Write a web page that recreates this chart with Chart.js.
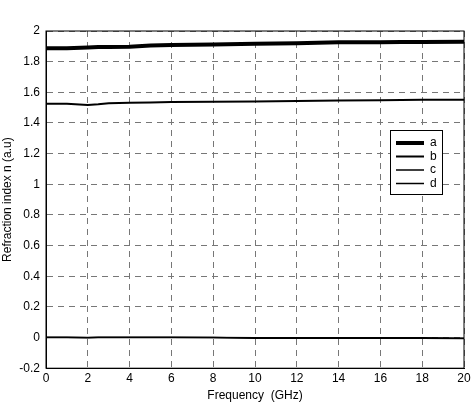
<!DOCTYPE html><html><head><style>body{margin:0;background:#fff}#w{width:474px;height:403px}</style>
<script src="https://cdn.jsdelivr.net/npm/chart.js@4"></script></head><body><div id="w"><canvas id="c"></canvas></div><script>
const freq=[0,1,2,2.5,3,4,5,6,8,10,12,14,16,17,18,20];
const seriesA=[1.888,1.888,1.892,1.895,1.896,1.898,1.905,1.908,1.912,1.917,1.920,1.926,1.926,1.928,1.929,1.930];
const seriesB=[1.525,1.525,1.518,1.522,1.528,1.532,1.534,1.536,1.538,1.540,1.543,1.546,1.548,1.550,1.551,1.552];
const seriesC=[0,0,-0.002,0,0,0,0,0,0,-0.004,-0.004,-0.004,-0.004,-0.004,-0.004,-0.006];
const seriesD=[0.002,0.002,0,0.002,0.002,0.002,0.002,0.002,0.001,-0.002,-0.002,-0.002,-0.002,-0.002,-0.002,-0.004];
const labels=['a','b','c','d'];
const widths=[4,2,1.5,1.5];
const all=[seriesA,seriesB,seriesC,seriesD];
const legendPlugin={id:'lg',afterDraw(ch){const x=ch.ctx;x.save();x.fillStyle='#fff';x.strokeStyle='#000';x.lineWidth=1;
x.fillRect(390,130,52,64);x.strokeRect(390.5,130.5,52,64);x.font='12px Arial';x.textBaseline='middle';
labels.forEach((l,i)=>{const y=143+i*13.5;x.beginPath();x.lineWidth=widths[i];x.moveTo(396,y);x.lineTo(424,y);x.stroke();x.fillStyle='#000';x.fillText(l,430,y);});x.restore();}};
new Chart(document.getElementById('c'),{type:'scatter',data:{datasets:all.map((s,i)=>({label:labels[i],data:freq.map((f,j)=>({x:f,y:s[j]})),showLine:true,borderColor:'#000',borderWidth:widths[i],pointRadius:0,tension:0}))},
options:{animation:false,responsive:true,maintainAspectRatio:false,layout:{padding:{top:31,right:10}},
plugins:{legend:{display:false},tooltip:{enabled:false}},
scales:{x:{min:0,max:20,ticks:{stepSize:2,color:'#000',font:{size:12,family:'Arial'},maxRotation:0},border:{color:'#000',dash:[6,5]},grid:{color:'#777',drawTicks:false},title:{display:true,text:'Frequency  (GHz)',color:'#000',font:{size:12,family:'Arial'},padding:0}},
y:{min:-0.2,max:2,afterFit(a){a.width=46},ticks:{stepSize:0.2,color:'#000',padding:6,font:{size:12,family:'Arial'},callback:v=>Math.round(v*10)/10},border:{color:'#000',dash:[6,5]},grid:{color:'#777',drawTicks:false},title:{display:true,text:'Refraction index n (a.u)',color:'#000',font:{size:12,family:'Arial'},padding:0}}}},
plugins:[legendPlugin,{id:'frame',afterDraw(ch){const a=ch.chartArea,x=ch.ctx;x.save();x.strokeStyle='#000';x.lineWidth=1;x.strokeRect(a.left,a.top,a.right-a.left,a.bottom-a.top);x.restore();}}]});
</script></body></html>
